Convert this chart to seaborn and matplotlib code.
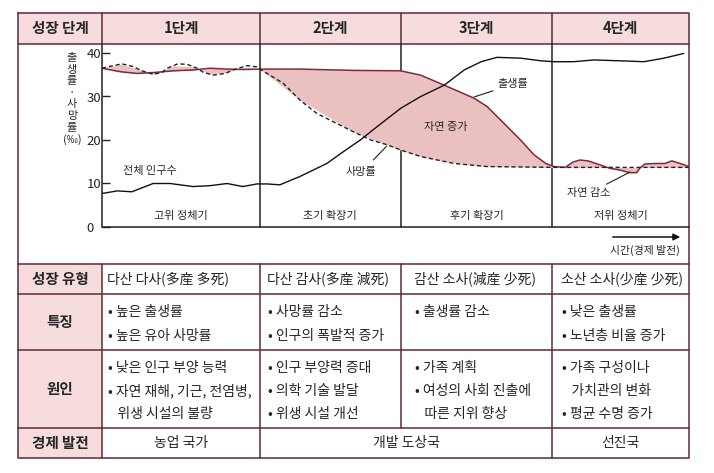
import numpy as np
import pandas as pd
import matplotlib
matplotlib.use("Agg")
import matplotlib.pyplot as plt
import seaborn as sns

sns.set_theme(style="white")
plt.rcParams['font.family'] = ['Noto Sans CJK KR', 'DejaVu Sans']

# ---- data (time axis 0..100, rates in permille) ----
birth_t = [0, 3.1, 6.0, 8.7, 12.1, 15.5, 18.4, 21.3, 24.0, 26.9, 33.7, 42.9, 50.9,
           54.3, 58.3, 63.4, 65.6, 68.5, 71.3, 73.6, 75.6, 77.0, 78.9, 80.2, 81.4,
           82.8, 84.8, 86.5, 88.2, 89.9, 91.1, 91.6, 92.5, 94.5, 95.9, 97.1, 98.5, 100]
birth_v = [36.5, 35.7, 35.3, 35.5, 35.9, 36.1, 36.5, 36.3, 36.2, 36.3, 36.3, 36.0, 35.9,
           34.9, 32.6, 29.6, 27.7, 23.8, 20.0, 16.6, 14.6, 13.9, 13.7, 14.9, 15.4,
           15.2, 14.3, 13.5, 13.1, 12.5, 12.5, 13.5, 14.5, 14.6, 14.6, 15.2, 14.6, 13.9]

death_t = [0, 1.9, 3.4, 5.3, 6.8, 8.7, 10.2, 11.1, 12.9, 14.5, 16.2, 17.2, 18.9, 21.0,
           22.3, 24.7, 26.4, 26.9, 30.9, 33.7, 36.6, 39.4, 42.8, 45.8, 48.6, 50.9,
           54.3, 60.0, 65.6, 77.0, 100]
death_v = [36.5, 37.1, 37.5, 36.9, 35.9, 35.1, 35.5, 36.5, 37.5, 37.4, 36.5, 35.6, 34.9, 35.3,
           36.1, 37.1, 36.8, 36.3, 33.0, 29.2, 26.1, 24.2, 21.9, 20.0, 18.9, 17.7,
           16.2, 14.6, 13.9, 13.7, 13.7]

pop_t = [0, 2.6, 5.1, 8.7, 11.6, 15.5, 18.4, 21.3, 24.0, 26.4, 28.1, 30.3, 33.7, 38.3,
         41.1, 44.0, 46.8, 50.9, 54.3, 58.3, 61.7, 64.6, 67.3, 71.4, 74.8, 77.0,
         80.4, 83.8, 88.4, 92.3, 95.7, 99.1]
pop_v = [7.7, 8.3, 8.1, 10.0, 10.0, 9.3, 9.5, 10.0, 9.3, 9.9, 9.9, 9.7, 11.6, 14.6,
         17.3, 20.0, 23.0, 27.3, 30.0, 32.6, 36.1, 38.0, 39.0, 38.8, 38.2, 38.0,
         38.0, 38.4, 38.2, 38.0, 38.8, 39.9]

stage_edges = [0, 26.9, 50.9, 76.7, 100]
stage_names = ['1단계', '2단계', '3단계', '4단계']
stage_periods = ['고위 정체기', '초기 확장기', '후기 확장기', '저위 정체기']
yticks = [0, 10, 20, 30, 40]

row_labels = ['성장 유형', '특징', '원인', '경제 발전']
growth_types = ['다산 다사(多産 多死)', '다산 감사(多産 減死)', '감산 소사(減産 少死)', '소산 소사(少産 少死)']
features = [['• 높은 출생률', '• 높은 유아 사망률'],
            ['• 사망률 감소', '• 인구의 폭발적 증가'],
            ['• 출생률 감소'],
            ['• 낮은 출생률', '• 노년층 비율 증가']]
causes = [['• 낮은 인구 부양 능력', '• 자연 재해, 기근, 전염병,', '   위생 시설의 불량'],
          ['• 인구 부양력 증대', '• 의학 기술 발달', '• 위생 시설 개선'],
          ['• 가족 계획', '• 여성의 사회 진출에', '   따른 지위 향상'],
          ['• 가족 구성이나', '   가치관의 변화', '• 평균 수명 증가']]
economy = ['농업 국가', '개발 도상국', '선진국']

# ---- colours ----
line_col = '#5e2a38'
pink_bg = '#f6dcdc'
fill_col = '#ebc0c1'
birth_col = '#7c2b3b'

W, H = 714, 473
fig = plt.figure(figsize=(W / 100, H / 100), dpi=100)

# overlay axes in pixel coordinates for the table
tab = fig.add_axes([0, 0, 1, 1])
tab.set_xlim(0, W)
tab.set_ylim(H, 0)
tab.axis('off')

L, R, T, B = 18, 689, 13, 458
cols = [102, 260, 401, 552, 689]
hdr_b, plot_b, arrow_b = 44, 227, 264
rows = [264, 294, 350, 428, 458]

# pink fills
tab.add_patch(plt.Rectangle((L, T), R - L, hdr_b - T, color=pink_bg, lw=0, zorder=0))
tab.add_patch(plt.Rectangle((L, rows[0]), cols[0] - L, B - rows[0], color=pink_bg, lw=0, zorder=0))

lw = 1.1
tab.plot([L, R, R, L, L], [T, T, B, B, T], color=line_col, lw=lw)
tab.plot([L, R], [hdr_b, hdr_b], color=line_col, lw=lw)
tab.plot([cols[0], R], [plot_b, plot_b], color='#222222', lw=lw)
for y in rows[:-1]:
    tab.plot([L, R], [y, y], color=line_col, lw=lw)
# column dividers
for x in cols[:4]:
    tab.plot([x, x], [T, hdr_b], color=line_col, lw=lw)
    tab.plot([x, x], [hdr_b, plot_b], color='#222222', lw=lw)
    tab.plot([x, x], [rows[0], rows[3]], color=line_col, lw=lw)
for x in [cols[0], cols[1], cols[3]]:
    tab.plot([x, x], [rows[3], rows[4]], color=line_col, lw=lw)

fam = ['Noto Sans CJK KR', 'DejaVu Sans']
fs_cell = 10
fs_head = 10.5
fs_plot = 8

# header
tab.text((L + cols[0]) / 2, (T + hdr_b) / 2, '성장 단계', ha='center', va='center',
         fontsize=fs_head, fontweight='bold', family=fam)
for i, name in enumerate(stage_names):
    tab.text((cols[i] + cols[i + 1]) / 2, (T + hdr_b) / 2, name, ha='center', va='center',
             fontsize=fs_head, fontweight='bold', family=fam)

# row labels
for i, lab in enumerate(row_labels):
    tab.text((L + cols[0]) / 2, (rows[i] + rows[i + 1]) / 2, lab, ha='center', va='center',
             fontsize=fs_head, fontweight='bold', family=fam)

# growth type row
gx = [107, 267, 414, 561]
for i, txt in enumerate(growth_types):
    tab.text(gx[i], (rows[0] + rows[1]) / 2, txt, ha='left', va='center', fontsize=fs_cell, family=fam)

bx = [108, 268, 415, 562]
for i, lines in enumerate(features):
    for j, txt in enumerate(lines):
        tab.text(bx[i], 312 + 24 * j, txt, ha='left', va='center', fontsize=fs_cell, family=fam)
for i, lines in enumerate(causes):
    for j, txt in enumerate(lines):
        tab.text(bx[i], 368 + 23 * j, txt, ha='left', va='center', fontsize=fs_cell, family=fam)

eco_cx = [(cols[0] + cols[1]) / 2, (cols[1] + cols[3]) / 2, (cols[3] + cols[4]) / 2]
for cx, txt in zip(eco_cx, economy):
    tab.text(cx, (rows[3] + rows[4]) / 2, txt, ha='center', va='center', fontsize=fs_cell, family=fam)

# time arrow
tab.annotate('', xy=(683, 237), xytext=(610, 237),
             arrowprops=dict(arrowstyle='-|>', color='#111111', lw=1.1, mutation_scale=10))
tab.text(645, 250, '시간(경제 발전)', ha='center', va='center', fontsize=7.8, family=fam)

# y label, stacked characters
tab.text(72, 53, '출\n생\n률\n·\n사\n망\n률\n(‰)', ha='center', va='top', fontsize=8,
         linespacing=1.2, family=fam)

# ---- the chart ----
ax = fig.add_axes([cols[0] / W, 1 - plot_b / H, (R - cols[0]) / W, (plot_b - hdr_b) / H])
ax.patch.set_alpha(0)
ax.set_xlim(0, 100)
ax.set_ylim(0, (plot_b - hdr_b) / 4.35)

bt = np.array(birth_t)
dv = np.interp(bt, death_t, death_v)
ax.fill_between(bt, birth_v, dv, color=fill_col, lw=0, zorder=1)

df_birth = pd.DataFrame({'t': birth_t, 'v': birth_v})
df_death = pd.DataFrame({'t': death_t, 'v': death_v})
df_pop = pd.DataFrame({'t': pop_t, 'v': pop_v})
sns.lineplot(data=df_birth, x='t', y='v', ax=ax, color=birth_col, lw=1.1, zorder=3)
sns.lineplot(data=df_death, x='t', y='v', ax=ax, color='#222222', lw=1.0, zorder=3,
             linestyle=(0, (3, 2)))
sns.lineplot(data=df_pop, x='t', y='v', ax=ax, color='#111111', lw=1.0, zorder=3)

for sp in ax.spines.values():
    sp.set_visible(False)
ax.set_xticks([])
ax.set_yticks(yticks)
ax.set_yticklabels([str(v) for v in yticks], family=fam)
ax.tick_params(axis='y', direction='in', length=6, width=1, color='#222222',
               labelsize=9.5, pad=11, left=True)
for lab in ax.get_yticklabels():
    lab.set_ha('left')
ax.set_xlabel('')
ax.set_ylabel('')
ax.grid(False)

for i, per in enumerate(stage_periods):
    ax.text((stage_edges[i] + stage_edges[i + 1]) / 2, 2.5, per, ha='center', va='center',
            fontsize=fs_plot, family=fam)

ax.text(8.2, 12.9, '전체 인구수', ha='center', va='center', fontsize=fs_plot, family=fam)
ax.text(58.6, 23.0, '자연 증가', ha='center', va='center', fontsize=fs_plot, family=fam)
ax.annotate('출생률', xy=(63.4, 29.9), xytext=(67.4, 32.8), ha='left', va='center',
            fontsize=fs_plot, family=fam,
            arrowprops=dict(arrowstyle='-', color='#222222', lw=0.8, shrinkA=1, shrinkB=0))
ax.annotate('사망률', xy=(48.5, 18.6), xytext=(44.2, 12.6), ha='center', va='center',
            fontsize=fs_plot, family=fam,
            arrowprops=dict(arrowstyle='-', color='#222222', lw=0.8, shrinkA=4, shrinkB=0))
ax.annotate('자연 감소', xy=(89.9, 12.6), xytext=(83.0, 7.8), ha='center', va='center',
            fontsize=fs_plot, family=fam,
            arrowprops=dict(arrowstyle='-', color='#222222', lw=0.8, shrinkA=1, shrinkB=0))

fig.savefig('out.png', dpi=100)
